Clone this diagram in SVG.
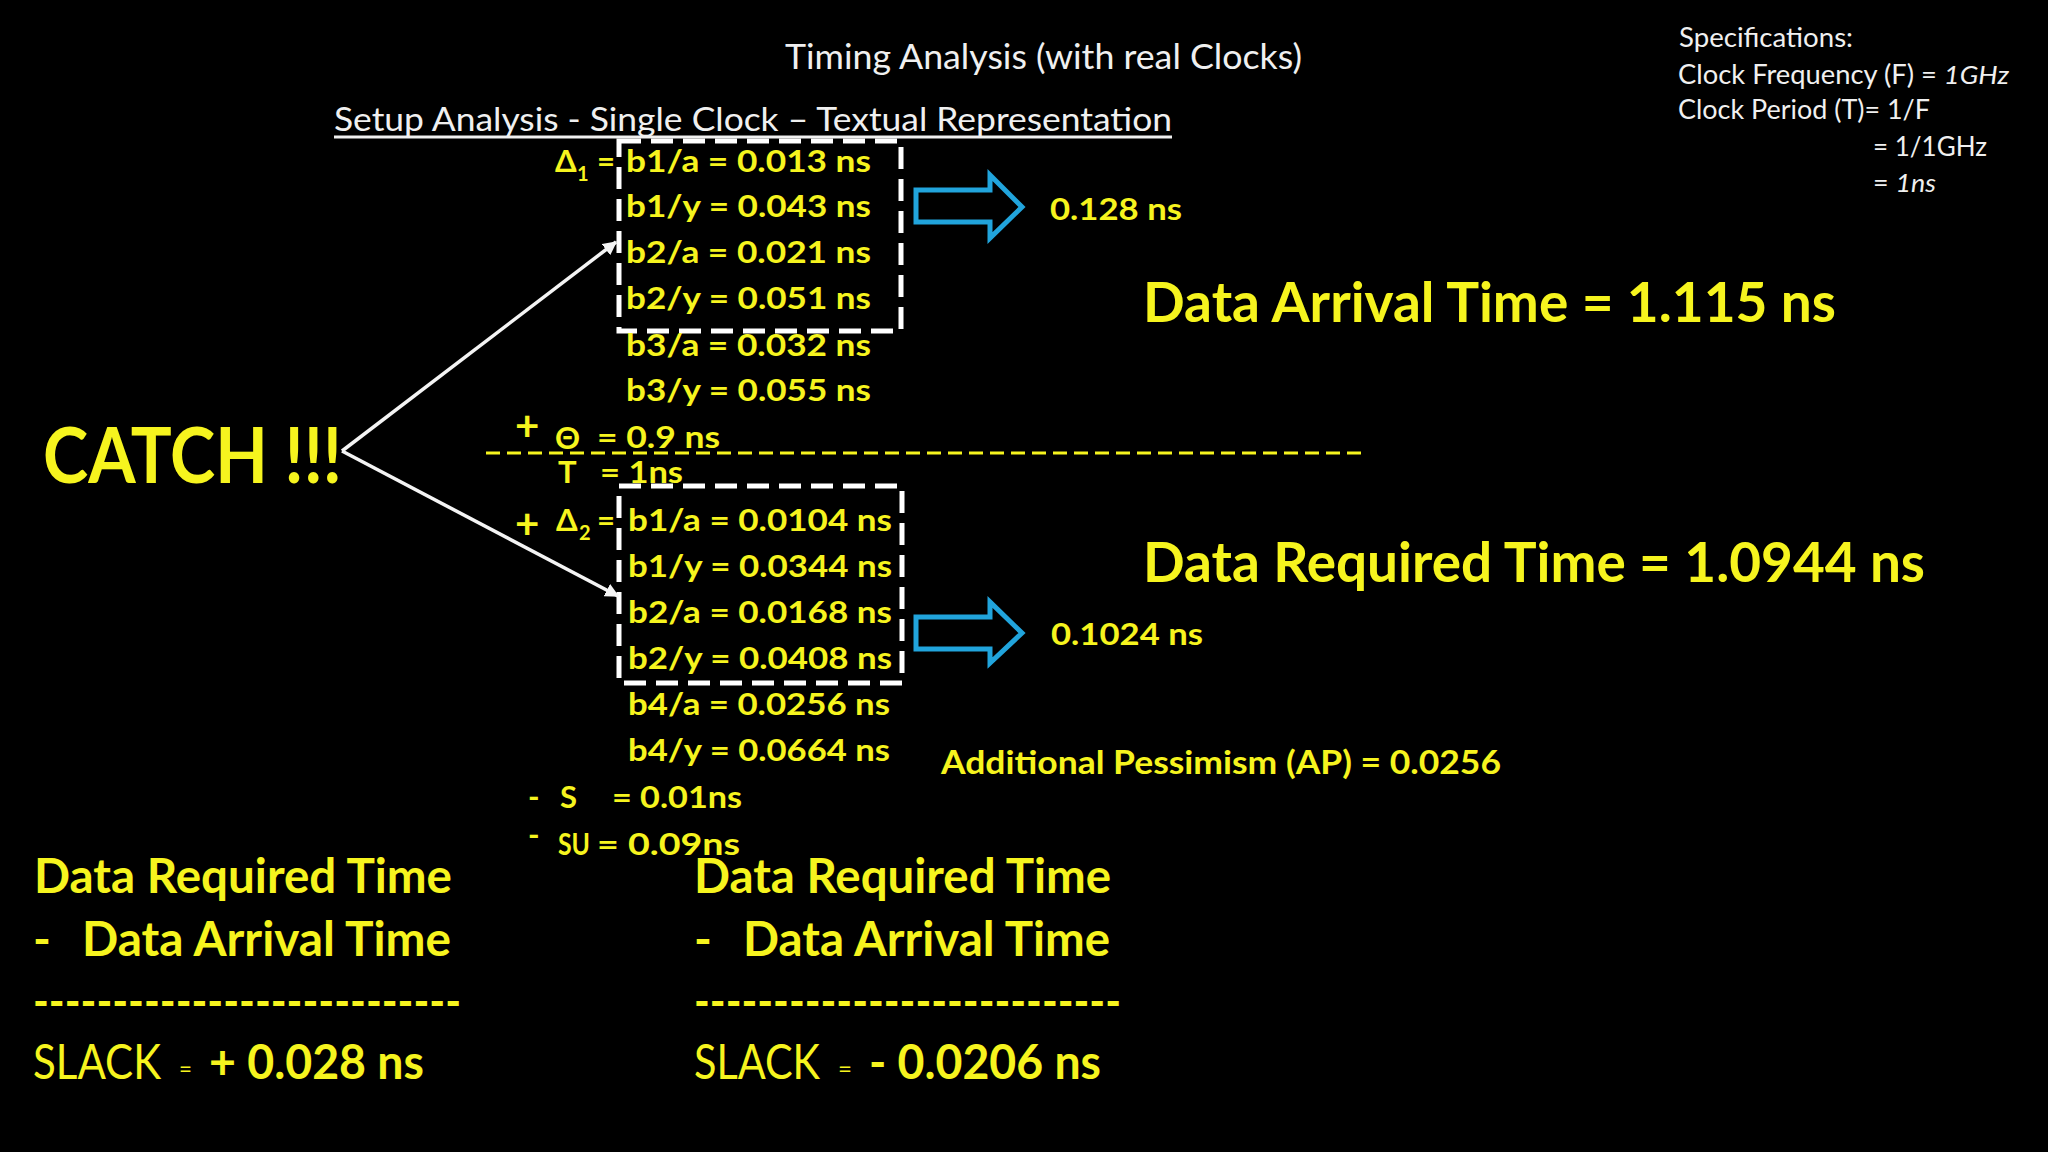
<svg xmlns="http://www.w3.org/2000/svg" width="2048" height="1152" viewBox="0 0 2048 1152">
<defs>
<style>
text{font-family:Lato,"Liberation Sans","DejaVu Sans",sans-serif}
.w{fill:#f0f0f0;font-weight:400}
.y{fill:#f6f41e;font-weight:700}
.yr{fill:#f6f41e;font-weight:400}
.row{font-size:31px}
.plus{font-size:42px}
.big{font-size:56px}
.mid{font-size:48px}
.spec{font-size:26px}
.box{fill:none;stroke:#ffffff;stroke-width:5;stroke-dasharray:22 10}
.arrow{fill:none;stroke:#21a4dc;stroke-width:5;stroke-linejoin:miter}
.conn{stroke:#f4f4f4;stroke-width:3.5;fill:none}
</style>
<marker id="ah" viewBox="0 0 10 10" refX="9" refY="5" markerWidth="4" markerHeight="4" orient="auto" markerUnits="strokeWidth">
<path d="M0,0 L10,5 L0,10 Z" fill="#f4f4f4"/>
</marker>
</defs>
<rect x="0" y="0" width="2048" height="1152" fill="#000000"/>

<g id="title">
<text class="w" x="785" y="69" font-size="34" textLength="517" lengthAdjust="spacingAndGlyphs">Timing Analysis (with real Clocks)</text>
<text class="w" x="334" y="131" font-size="33" textLength="838" lengthAdjust="spacingAndGlyphs">Setup Analysis - Single Clock – Textual Representation</text>
<line x1="334" y1="137" x2="1172" y2="137" stroke="#f0f0f0" stroke-width="3"/>
</g>

<g id="specifications">
<text class="w spec" x="1679" y="47" textLength="174" lengthAdjust="spacingAndGlyphs">Specifications:</text>
<text class="w spec" x="1678" y="84" textLength="331" lengthAdjust="spacingAndGlyphs">Clock Frequency (F) = <tspan font-style="italic">1GHz</tspan></text>
<text class="w spec" x="1678" y="119" textLength="252" lengthAdjust="spacingAndGlyphs">Clock Period (T)= 1/F</text>
<text class="w spec" x="1873" y="156" textLength="114" lengthAdjust="spacingAndGlyphs">= 1/1GHz</text>
<text class="w spec" x="1873" y="192" textLength="63" lengthAdjust="spacingAndGlyphs">= <tspan font-style="italic">1ns</tspan></text>
</g>

<g id="catch">
<text class="y" x="43" y="483" font-size="76" textLength="299" lengthAdjust="spacingAndGlyphs">CATCH !!!</text>
</g>

<g id="delta1-block">
<text class="y row" x="555" y="172">Δ</text>
<text class="y" x="577" y="181" font-size="20">1</text>
<text class="y row" x="597" y="172">=</text>
<rect class="box" x="619" y="141" width="282" height="190"/>
<text class="y row" x="626" y="172" textLength="245" lengthAdjust="spacingAndGlyphs">b1/a = 0.013 ns</text>
<text class="y row" x="626" y="217" textLength="245" lengthAdjust="spacingAndGlyphs">b1/y = 0.043 ns</text>
<text class="y row" x="626" y="263" textLength="245" lengthAdjust="spacingAndGlyphs">b2/a = 0.021 ns</text>
<text class="y row" x="626" y="309" textLength="245" lengthAdjust="spacingAndGlyphs">b2/y = 0.051 ns</text>
<text class="y row" x="626" y="356" textLength="245" lengthAdjust="spacingAndGlyphs">b3/a = 0.032 ns</text>
<text class="y row" x="626" y="401" textLength="245" lengthAdjust="spacingAndGlyphs">b3/y = 0.055 ns</text>
</g>

<g id="theta-period">
<text class="y plus" x="515" y="441">+</text>
<text class="y row" x="555" y="449">Θ</text>
<text class="y row" x="597" y="448" textLength="123" lengthAdjust="spacingAndGlyphs">= 0.9 ns</text>
<line x1="486" y1="453" x2="1366" y2="453" stroke="#f6f41e" stroke-width="3" stroke-dasharray="14 7"/>
<text class="y row" x="558" y="483">T</text>
<text class="y row" x="600" y="483" textLength="83" lengthAdjust="spacingAndGlyphs">= 1ns</text>
</g>

<g id="delta2-block">
<text class="y plus" x="515" y="539">+</text>
<text class="y row" x="556" y="531">Δ</text>
<text class="y" x="579" y="540" font-size="20">2</text>
<text class="y row" x="597" y="531">=</text>
<rect class="box" x="619" y="486" width="283" height="197"/>
<text class="y row" x="628" y="531" textLength="264" lengthAdjust="spacingAndGlyphs">b1/a = 0.0104 ns</text>
<text class="y row" x="628" y="577" textLength="264" lengthAdjust="spacingAndGlyphs">b1/y = 0.0344 ns</text>
<text class="y row" x="628" y="623" textLength="264" lengthAdjust="spacingAndGlyphs">b2/a = 0.0168 ns</text>
<text class="y row" x="628" y="669" textLength="264" lengthAdjust="spacingAndGlyphs">b2/y = 0.0408 ns</text>
<text class="y row" x="628" y="715" textLength="262" lengthAdjust="spacingAndGlyphs">b4/a = 0.0256 ns</text>
<text class="y row" x="628" y="761" textLength="262" lengthAdjust="spacingAndGlyphs">b4/y = 0.0664 ns</text>
</g>

<g id="setup-terms">
<text class="y row" x="528" y="808">-</text>
<text class="y row" x="560" y="808">S</text>
<text class="y row" x="612" y="808" textLength="130" lengthAdjust="spacingAndGlyphs">= 0.01ns</text>
<text class="y row" x="528" y="846">-</text>
<text class="y row" x="558" y="855" textLength="32" lengthAdjust="spacingAndGlyphs">SU</text>
<text class="y row" x="597" y="855" textLength="143" lengthAdjust="spacingAndGlyphs">= 0.09ns</text>
</g>

<g id="arrow-arrival">
<path class="arrow" d="M916,190 L990,190 L990,175 L1022,207 L990,238 L990,222 L916,222 Z"/>
<text class="y row" x="1050" y="220" textLength="132" lengthAdjust="spacingAndGlyphs">0.128 ns</text>
</g>

<g id="arrow-required">
<path class="arrow" d="M916,617 L990,617 L990,602 L1022,633 L990,663 L990,649 L916,649 Z"/>
<text class="y row" x="1051" y="645" textLength="152" lengthAdjust="spacingAndGlyphs">0.1024 ns</text>
</g>

<g id="results">
<text class="y big" x="1143" y="322" textLength="693" lengthAdjust="spacingAndGlyphs">Data Arrival Time = 1.115 ns</text>
<text class="y big" x="1143" y="582" textLength="782" lengthAdjust="spacingAndGlyphs">Data Required Time = 1.0944 ns</text>
<text class="y" x="941" y="774" font-size="32" textLength="560" lengthAdjust="spacingAndGlyphs">Additional Pessimism (AP) = 0.0256</text>
</g>

<g id="slack-left">
<text class="y mid" x="34" y="893" textLength="418" lengthAdjust="spacingAndGlyphs">Data Required Time</text>
<text class="y mid" x="33" y="956">-</text>
<text class="y mid" x="82" y="956" textLength="369" lengthAdjust="spacingAndGlyphs">Data Arrival Time</text>
<text class="y mid" x="33" y="1018" textLength="428" lengthAdjust="spacingAndGlyphs">---------------------------</text>
<text class="yr mid" x="33" y="1079" textLength="128" lengthAdjust="spacingAndGlyphs">SLACK</text>
<text class="yr" x="179" y="1077" font-size="24" textLength="13" lengthAdjust="spacingAndGlyphs">=</text>
<text class="y mid" x="209" y="1079" textLength="215" lengthAdjust="spacingAndGlyphs">+ 0.028 ns</text>
</g>

<g id="slack-right">
<text class="y mid" x="694" y="893" textLength="417" lengthAdjust="spacingAndGlyphs">Data Required Time</text>
<text class="y mid" x="694" y="956">-</text>
<text class="y mid" x="743" y="956" textLength="367" lengthAdjust="spacingAndGlyphs">Data Arrival Time</text>
<text class="y mid" x="694" y="1018" textLength="427" lengthAdjust="spacingAndGlyphs">---------------------------</text>
<text class="yr mid" x="694" y="1079" textLength="126" lengthAdjust="spacingAndGlyphs">SLACK</text>
<text class="yr" x="838" y="1077" font-size="24" textLength="14" lengthAdjust="spacingAndGlyphs">=</text>
<text class="y mid" x="869" y="1079" textLength="232" lengthAdjust="spacingAndGlyphs">- 0.0206 ns</text>
</g>

<g id="connectors">
<line class="conn" x1="342" y1="451" x2="616" y2="242" marker-end="url(#ah)"/>
<line class="conn" x1="342" y1="451" x2="618" y2="596" marker-end="url(#ah)"/>
</g>
</svg>
